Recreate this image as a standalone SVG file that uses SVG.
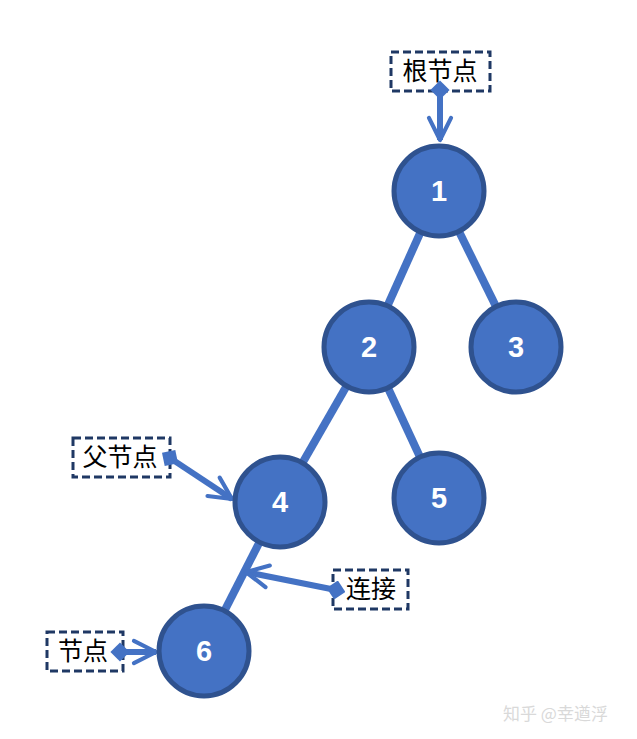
<svg xmlns="http://www.w3.org/2000/svg" width="637" height="739" viewBox="0 0 637 739">
<defs>
<style>
.node circle{fill:#4472C4;stroke:#2F528F;stroke-width:5}
.node text{fill:#fff;font-family:"Liberation Sans",Arial,sans-serif;font-weight:bold;font-size:29px;text-anchor:middle}
.edge{stroke:#4472C4;stroke-width:8;fill:none}
.ptr{stroke:#4472C4;stroke-width:6;fill:none;marker-start:url(#dia);marker-end:url(#arr)}
.lbl rect{fill:#fff;stroke:#1F3864;stroke-width:3;stroke-dasharray:8 4}
.lbl text{fill:#000;font-family:"Liberation Sans","Noto Sans CJK SC",sans-serif;font-size:25px;text-anchor:middle}
.wm{fill:#d9d9d9;font-family:"Noto Sans CJK SC",sans-serif;font-size:17px}
</style>
<marker id="arr" viewBox="0 0 10 10" refX="9" refY="5" markerWidth="4.6" markerHeight="4.6" orient="auto" markerUnits="strokeWidth">
<path d="M1,1 L9,5 L1,9" fill="none" stroke="#4472C4" stroke-width="1.5" stroke-linecap="round" stroke-linejoin="round"/>
</marker>
<marker id="dia" viewBox="0 0 10 10" refX="5" refY="5" markerWidth="3.2" markerHeight="3.2" orient="auto" markerUnits="strokeWidth">
<path d="M0,5 L5,0 L10,5 L5,10 Z" fill="#4472C4"/>
</marker>
</defs>
<rect width="637" height="739" fill="#fff"/>
<g id="label-root" class="lbl"><rect x="391" y="52" width="99" height="39"/><text x="440" y="80">根节点</text></g>
<g id="label-parent" class="lbl"><rect x="73" y="438" width="97" height="39"/><text x="120" y="466">父节点</text></g>
<g id="label-link" class="lbl"><rect x="333" y="570" width="75" height="39"/><text x="371" y="598">连接</text></g>
<g id="label-node" class="lbl"><rect x="47" y="632" width="76" height="39"/><text x="83" y="660">节点</text></g>
<g id="connectors">
<line class="edge" x1="439" y1="191" x2="369" y2="347"/>
<line class="edge" x1="439" y1="191" x2="516" y2="347"/>
<line class="edge" x1="369" y1="347" x2="280" y2="502"/>
<line class="edge" x1="369" y1="347" x2="439" y2="498"/>
<line class="edge" x1="280" y1="502" x2="204" y2="651"/>
<line class="ptr" x1="440" y1="90" x2="440" y2="140"/>
<line class="ptr" x1="170" y1="458" x2="232" y2="499"/>
<line class="ptr" x1="336" y1="590" x2="246" y2="572"/>
<line class="ptr" x1="120" y1="652" x2="156" y2="652"/>
</g>
<g id="node1" class="node"><circle cx="439" cy="191" r="45"/><text x="439" y="201">1</text></g>
<g id="node2" class="node"><circle cx="369" cy="347" r="45"/><text x="369" y="357">2</text></g>
<g id="node3" class="node"><circle cx="516" cy="347" r="45"/><text x="516" y="357">3</text></g>
<g id="node4" class="node"><circle cx="280" cy="502" r="45"/><text x="280" y="512">4</text></g>
<g id="node5" class="node"><circle cx="439" cy="498" r="45"/><text x="439" y="508">5</text></g>
<g id="node6" class="node"><circle cx="204" cy="651" r="45"/><text x="204" y="661">6</text></g>
<text class="wm" x="503" y="720">知乎 @幸遒浮</text>
</svg>
